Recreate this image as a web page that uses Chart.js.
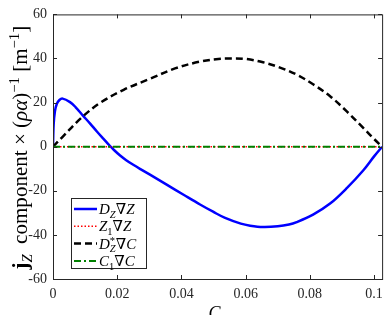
<!DOCTYPE html>
<html>
<head>
<meta charset="utf-8">
<script src="https://cdn.jsdelivr.net/npm/chart.js@4.4.1/dist/chart.umd.min.js"></script>
<style>
  html, body { margin: 0; padding: 0; background: #fff; }
  #wrap { width: 390px; height: 315px; }
</style>
</head>
<body>
<div id="wrap"><canvas id="jzChart" width="390" height="315"></canvas></div>
<script>
// tick labels
const xTicks = [0, 0.02, 0.04, 0.06, 0.08, 0.1];
const yTicks = [-60, -40, -20, 0, 20, 40, 60];

// D_Z grad Z  (blue, solid)
const dzC = [0, 0.0002, 0.0006, 0.0012, 0.002, 0.003, 0.0053, 0.007, 0.0094, 0.0115, 0.0136,
             0.0155, 0.0172, 0.019, 0.0209, 0.0228, 0.025, 0.0275, 0.0302, 0.0354, 0.0408,
             0.0458, 0.05, 0.0536, 0.0585, 0.0614, 0.0654, 0.07, 0.0735, 0.0759, 0.081,
             0.0863, 0.0915, 0.0966, 0.1, 0.1025];
const dzJ = [0, 10, 16, 19.5, 21.2, 21.8, 20.2, 18, 14, 10.6, 7,
             3.9, 1.2, -1.5, -4, -6.1, -8.2, -10.4, -12.7, -17.2, -21.9,
             -26.2, -29.6, -32.3, -34.9, -35.8, -36.4, -36.1, -35.3, -34.2, -30.8,
             -25.8, -18.8, -10.8, -4.4, 0];

// D_Z* grad C  (black, dashed)
const dsC = [0, 0.003, 0.0089, 0.0146, 0.022, 0.0302, 0.038, 0.0458, 0.0515, 0.0555, 0.06, 0.0654,
             0.0705, 0.0759, 0.081, 0.0863, 0.0915, 0.0967, 0.1, 0.1025];
const dsJ = [0, 4.5, 13.2, 19.8, 25.8, 30.8, 35.5, 38.6, 39.8, 40, 39.8, 38.3,
             36, 32.7, 28.3, 22.9, 16, 8.4, 3.5, 0];

// Z_1 grad Z and C_1 grad C (both lie on zero)
const flatC = [0, 0.1025];
const z1J = [0, 0];
const c1J = [0, 0];

const serif = '"Liberation Serif", "DejaVu Serif", serif';
const inkColor = '#262626';

function pts(xs, ys) {
    return xs.map((x, i) => ({ x: x, y: ys[i] }));
}

// draw text runs with sub/superscripts, returns total width
function drawRuns(ctx, runs, x, y, size, doDraw) {
    let cx = x;
    runs.forEach(r => {
        const s = size * (r.scale || 1);
        const weight = r.bold ? 'bold ' : '';
        const style = r.italic ? 'italic ' : '';
        ctx.font = style + weight + s + 'px ' + serif;
        const w = ctx.measureText(r.t).width;
        if (doDraw) ctx.fillText(r.t, cx, y + (r.dy || 0) * size);
        if (!r.noAdvance) cx += w;
    });
    return cx - x;
}

const yTitleRuns = [
    { t: 'j', bold: true },
    { t: 'Z', italic: true, scale: 0.7, dy: 0.25 },
    { t: '  component × (' },
    { t: 'ρα', italic: true },
    { t: ')' },
    { t: '−1', scale: 0.7, dy: -0.4 },
    { t: ' [m' },
    { t: '−1', scale: 0.7, dy: -0.4 },
    { t: ']' }
];

const legendItems = [
    { color: '#0000ff', dash: [], width: 2.5,
      runs: [{ t: 'D', italic: true }, { t: 'Z', italic: true, scale: 0.7, dy: 0.25 }, { t: '∇' }, { t: 'Z', italic: true }] },
    { color: '#ff0000', dash: [1.5, 2], width: 1.5,
      runs: [{ t: 'Z', italic: true }, { t: '1', scale: 0.7, dy: 0.25 }, { t: '∇' }, { t: 'Z', italic: true }] },
    { color: '#000000', dash: [7, 4], width: 2.5,
      runs: [{ t: 'D', italic: true }, { t: '*', scale: 0.7, dy: -0.3, noAdvance: true }, { t: 'Z', italic: true, scale: 0.7, dy: 0.25 }, { t: '∇' }, { t: 'C', italic: true }] },
    { color: '#008000', dash: [7, 3, 2, 3], width: 2,
      runs: [{ t: 'C', italic: true }, { t: '1', scale: 0.7, dy: 0.25 }, { t: '∇' }, { t: 'C', italic: true }] }
];

const decorations = {
    id: 'decorations',
    afterDraw(chart) {
        const ctx = chart.ctx;
        const a = chart.chartArea;
        const xs = chart.scales.x, ys = chart.scales.y;
        ctx.save();

        // box with inward ticks on all sides
        ctx.strokeStyle = inkColor;
        ctx.lineWidth = 1;
        ctx.setLineDash([]);
        ctx.strokeRect(a.left + 0.5, a.top + 0.5, a.right - a.left, a.bottom - a.top);
        ctx.beginPath();
        xTicks.forEach(v => {
            const px = Math.round(xs.getPixelForValue(v)) + 0.5;
            ctx.moveTo(px, a.bottom); ctx.lineTo(px, a.bottom - 4);
            ctx.moveTo(px, a.top); ctx.lineTo(px, a.top + 4);
        });
        yTicks.forEach(v => {
            const py = Math.round(ys.getPixelForValue(v)) + 0.5;
            ctx.moveTo(a.left, py); ctx.lineTo(a.left + 4, py);
            ctx.moveTo(a.right, py); ctx.lineTo(a.right - 4, py);
        });
        ctx.stroke();

        // y axis title, sized to span the plot height like the reference
        ctx.fillStyle = '#000';
        ctx.textBaseline = 'alphabetic';
        ctx.textAlign = 'left';
        const baseW = drawRuns(ctx, yTitleRuns, 0, 0, 10, false);
        const ySize = 10 * 244 / baseW;
        ctx.save();
        ctx.translate(27, (a.top + a.bottom) / 2 + 1);
        ctx.rotate(-Math.PI / 2);
        const tw = drawRuns(ctx, yTitleRuns, 0, 0, ySize, false);
        drawRuns(ctx, yTitleRuns, -tw / 2, 0, ySize, true);
        ctx.restore();

        // x axis title
        ctx.font = 'italic 18px ' + serif;
        ctx.textAlign = 'center';
        ctx.fillText('C', (a.left + a.right) / 2 - 3, 319);

        // legend
        const lx = 71, ly = 198, lw = 75, lh = 70;
        ctx.fillStyle = '#fff';
        ctx.fillRect(lx, ly, lw, lh);
        ctx.strokeStyle = '#262626';
        ctx.lineWidth = 1;
        ctx.strokeRect(lx + 0.5, ly + 0.5, lw, lh);
        ctx.textAlign = 'left';
        legendItems.forEach((item, i) => {
            const rowY = ly + 11 + i * 17.3;
            ctx.strokeStyle = item.color;
            ctx.lineWidth = item.width;
            ctx.setLineDash(item.dash);
            ctx.beginPath();
            ctx.moveTo(lx + 3, rowY);
            ctx.lineTo(lx + 26, rowY);
            ctx.stroke();
            ctx.setLineDash([]);
            ctx.fillStyle = '#000';
            drawRuns(ctx, item.runs, lx + 28, rowY + 5, 15, true);
        });
        ctx.restore();
    }
};

const ctx = document.getElementById('jzChart').getContext('2d');
new Chart(ctx, {
    type: 'line',
    data: {
        datasets: [
            { label: 'DZ grad Z', data: pts(dzC, dzJ), borderColor: '#0000ff', borderWidth: 2.5,
              pointRadius: 0, tension: 0.35, order: 4 },
            { label: 'Z1 grad Z', data: pts(flatC, z1J), borderColor: '#ff0000', borderWidth: 1.5,
              borderDash: [1.5, 2], pointRadius: 0, order: 3 },
            { label: 'DZ* grad C', data: pts(dsC, dsJ), borderColor: '#000000', borderWidth: 2.5,
              borderDash: [7, 4], pointRadius: 0, tension: 0.35, order: 2 },
            { label: 'C1 grad C', data: pts(flatC, c1J), borderColor: '#008000', borderWidth: 2,
              borderDash: [7, 3, 2, 3], pointRadius: 0, order: 1 }
        ]
    },
    options: {
        responsive: false,
        animation: false,
        devicePixelRatio: 1,
        layout: { padding: { top: 12, right: 7, left: 0, bottom: 0 } },
        plugins: { legend: { display: false }, tooltip: { enabled: false } },
        scales: {
            x: {
                type: 'linear', min: 0, max: 0.1025,
                grid: { display: false, drawTicks: false },
                border: { display: false },
                afterBuildTicks: s => { s.ticks = xTicks.map(v => ({ value: v })); },
                afterFit: s => { s.height = 36; },
                ticks: { padding: 7, color: inkColor, font: { family: serif, size: 14 },
                         maxRotation: 0, callback: v => String(v) }
            },
            y: {
                min: -60, max: 60,
                grid: { display: false, drawTicks: false },
                border: { display: false },
                afterBuildTicks: s => { s.ticks = yTicks.map(v => ({ value: v })); },
                afterFit: s => { s.width = 53; },
                ticks: { padding: 6, color: inkColor, font: { family: serif, size: 14 },
                         callback: v => String(v) }
            }
        }
    },
    plugins: [decorations]
});
</script>
</body>
</html>
